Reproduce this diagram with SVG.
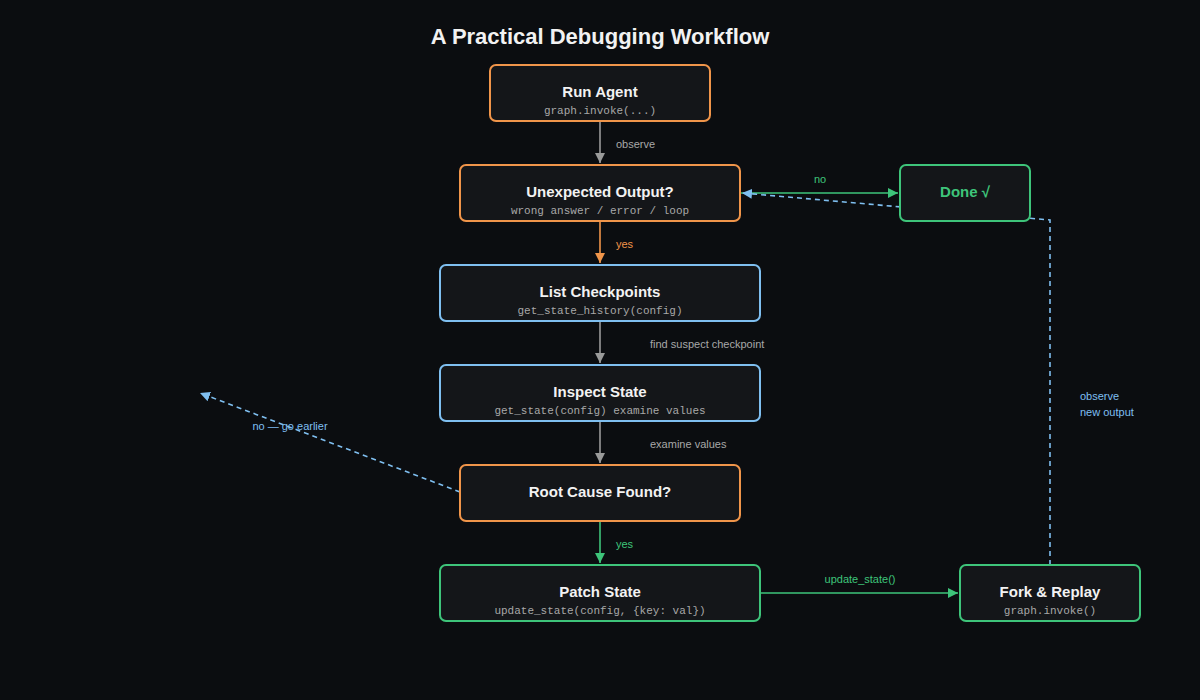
<svg xmlns="http://www.w3.org/2000/svg" width="1200" height="700" viewBox="0 0 1200 700">
<style>
.n{fill:#141619;stroke-width:2}
.o{stroke:#f0954a}.b{stroke:#7fbff0}.g{stroke:#3ec47a}
.t{font-family:"Liberation Sans",Arial,sans-serif;font-weight:bold;font-size:15px;fill:#f2f2f2;text-anchor:middle}
.s{font-family:"Liberation Mono","Courier New",monospace;font-size:11px;fill:#a8a8a8;text-anchor:middle}
.l{font-family:"Liberation Sans",Arial,sans-serif;font-size:11px}
</style>
<defs>
<marker id="ag" viewBox="0 0 10 10" refX="10" refY="5" markerWidth="10" markerHeight="10" markerUnits="userSpaceOnUse" orient="auto"><path d="M0,0L10,5L0,10z" fill="#9a9a9a"/></marker>
<marker id="ao" viewBox="0 0 10 10" refX="10" refY="5" markerWidth="10" markerHeight="10" markerUnits="userSpaceOnUse" orient="auto"><path d="M0,0L10,5L0,10z" fill="#f0954a"/></marker>
<marker id="agr" viewBox="0 0 10 10" refX="10" refY="5" markerWidth="10" markerHeight="10" markerUnits="userSpaceOnUse" orient="auto"><path d="M0,0L10,5L0,10z" fill="#3ec47a"/></marker>
<marker id="ab" viewBox="0 0 10 10" refX="10" refY="5" markerWidth="10" markerHeight="10" markerUnits="userSpaceOnUse" orient="auto"><path d="M0,0L10,5L0,10z" fill="#7fbff0"/></marker>
</defs>
<rect width="1200" height="700" fill="#0b0d10"/>
<text x="600" y="44" font-family="Liberation Sans,Arial,sans-serif" font-weight="bold" font-size="22" fill="#f2f2f2" text-anchor="middle">A Practical Debugging Workflow</text>
<g id="connectors" fill="none" stroke-width="1.6">
<path d="M600,121V163" stroke="#9a9a9a" marker-end="url(#ag)"/>
<path d="M600,221V263" stroke="#f0954a" marker-end="url(#ao)"/>
<path d="M600,321V363" stroke="#9a9a9a" marker-end="url(#ag)"/>
<path d="M600,421V463" stroke="#9a9a9a" marker-end="url(#ag)"/>
<path d="M600,521V563" stroke="#3ec47a" marker-end="url(#agr)"/>
<path d="M740,193H898" stroke="#3ec47a" marker-end="url(#agr)"/>
<path d="M760,593H958" stroke="#3ec47a" marker-end="url(#agr)"/>
<path d="M1050,565V220L742,193" stroke="#7fbff0" stroke-dasharray="5,4" marker-end="url(#ab)"/>
<path d="M460,492L200,393" stroke="#7fbff0" stroke-dasharray="5,4" marker-end="url(#ab)"/>
<text class="l" x="616" y="148" fill="#a8a8a8">observe</text>
<text class="l" x="616" y="248" fill="#f0954a">yes</text>
<text class="l" x="650" y="348" fill="#a8a8a8">find suspect checkpoint</text>
<text class="l" x="650" y="448" fill="#a8a8a8">examine values</text>
<text class="l" x="616" y="548" fill="#3ec47a">yes</text>
<text class="l" x="820" y="183" fill="#3ec47a" text-anchor="middle" font-size="12">no</text>
<text class="l" x="860" y="583" fill="#3ec47a" text-anchor="middle">update_state()</text>
<text class="l" x="1080" y="400" fill="#7fbff0">observe</text>
<text class="l" x="1080" y="416" fill="#7fbff0">new output</text>
<text class="l" x="290" y="430" fill="#7fbff0" text-anchor="middle" font-size="12">no — go earlier</text>
</g>
<g id="run"><rect class="n o" x="490" y="65" width="220" height="56" rx="6"/><text class="t" x="600" y="97">Run Agent</text><text class="s" x="600" y="114">graph.invoke(...)</text></g>
<g id="unexpected"><rect class="n o" x="460" y="165" width="280" height="56" rx="6"/><text class="t" x="600" y="197">Unexpected Output?</text><text class="s" x="600" y="214">wrong answer / error / loop</text></g>
<g id="done"><rect class="n g" x="900" y="165" width="130" height="56" rx="6"/><text class="t" x="965" y="197" fill="#3ec47a" style="fill:#3ec47a">Done √</text></g>
<g id="list"><rect class="n b" x="440" y="265" width="320" height="56" rx="6"/><text class="t" x="600" y="297">List Checkpoints</text><text class="s" x="600" y="314">get_state_history(config)</text></g>
<g id="inspect"><rect class="n b" x="440" y="365" width="320" height="56" rx="6"/><text class="t" x="600" y="397">Inspect State</text><text class="s" x="600" y="414">get_state(config) examine values</text></g>
<g id="root"><rect class="n o" x="460" y="465" width="280" height="56" rx="6"/><text class="t" x="600" y="497">Root Cause Found?</text></g>
<g id="patch"><rect class="n g" x="440" y="565" width="320" height="56" rx="6"/><text class="t" x="600" y="597">Patch State</text><text class="s" x="600" y="614">update_state(config, {key: val})</text></g>
<g id="fork"><rect class="n g" x="960" y="565" width="180" height="56" rx="6"/><text class="t" x="1050" y="597">Fork &amp; Replay</text><text class="s" x="1050" y="614">graph.invoke()</text></g>
</svg>
